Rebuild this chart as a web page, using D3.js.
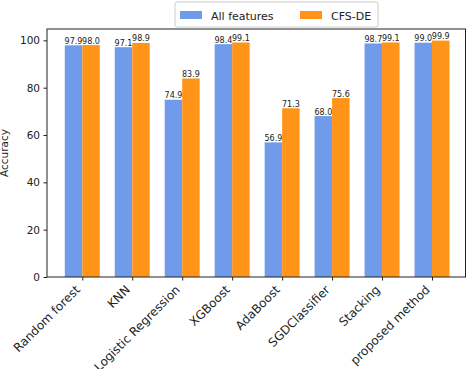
<!DOCTYPE html>
<html><head><meta charset="utf-8">
<script src="https://cdnjs.cloudflare.com/ajax/libs/d3/7.8.5/d3.min.js"></script>
<style>body{margin:0;background:#fff}svg{display:block;font-family:"DejaVu Sans",sans-serif}</style>
</head><body>
<svg id="c" width="474" height="369"></svg>
<script>
const categories = ["Random forest","KNN","Logistic Regression","XGBoost","AdaBoost","SGDClassifier","Stacking","proposed method"];
const allFeatures = [97.9, 97.1, 74.9, 98.4, 56.9, 68.0, 98.7, 99.0];
const cfsDE = [98.0, 98.9, 83.9, 99.1, 71.3, 75.6, 99.1, 99.9];
const seriesNames = ["All features","CFS-DE"];
const yTicks = [0, 20, 40, 60, 80, 100];

const colors = ["#6f9bea", "#ff9418"];
const svg = d3.select("#c");
const L = 47, R = 465.5, T = 29, B = 277;
const barW = 0.35;
const x = d3.scaleLinear().domain([-0.706, 7.67]).range([L, R]);
const y = d3.scaleLinear().domain([0, 104.8]).range([B, T]);

const series = [allFeatures, cfsDE];
series.forEach((vals, s) => {
  const off = s === 0 ? -barW : 0;
  svg.append("g").selectAll("rect").data(vals).join("rect")
    .attr("x", (d, i) => x(i + off))
    .attr("width", x(barW) - x(0))
    .attr("y", d => y(d))
    .attr("height", d => y(0) - y(d))
    .attr("fill", colors[s]);
  svg.append("g").selectAll("text").data(vals).join("text")
    .attr("x", (d, i) => x(i + off + barW / 2))
    .attr("y", d => y(d) - 1.5)
    .attr("text-anchor", "middle")
    .attr("font-size", "8px")
    .attr("fill", "#222")
    .text(d => d.toFixed(1));
});

// axes
const yAxis = d3.axisLeft(y).tickValues(yTicks).tickSize(3.5).tickPadding(3.5);
const gy = svg.append("g").attr("transform", `translate(${L},0)`).call(yAxis);
gy.select(".domain").remove();
gy.selectAll("text").attr("font-size", "10.5px").attr("fill", "#222").attr("font-family", "DejaVu Sans");
gy.selectAll("line").attr("stroke", "#222");

const xAxis = d3.axisBottom(x).tickValues(d3.range(categories.length)).tickFormat(i => categories[i]).tickSize(3.5).tickPadding(2);
const gx = svg.append("g").attr("transform", `translate(0,${B})`).call(xAxis);
gx.select(".domain").remove();
gx.selectAll("line").attr("stroke", "#222");
gx.selectAll("text")
  .attr("font-size", "12px").attr("fill", "#222").attr("font-family", "DejaVu Sans")
  .attr("text-anchor", "end")
  .attr("dy", 0)
  .attr("transform", "translate(-2,13.5) rotate(-45)")
  .attr("y", 0).attr("x", 0);

svg.append("rect").attr("x", L).attr("y", T).attr("width", R - L).attr("height", B - T)
  .attr("fill", "none").attr("stroke", "#222").attr("stroke-width", 1);

svg.append("text").attr("transform", `translate(8,${(T + B) / 2}) rotate(-90)`)
  .attr("text-anchor", "middle").attr("font-size", "10.5px").attr("fill", "#222").text("Accuracy");

// legend
const lg = svg.append("g");
lg.append("rect").attr("x", 175).attr("y", 2).attr("width", 203).attr("height", 25).attr("rx", 2)
  .attr("fill", "#fff").attr("stroke", "#ccc").attr("stroke-width", 1);
const legX = [180, 300];
seriesNames.forEach((n, i) => {
  lg.append("rect").attr("x", legX[i]).attr("y", 11).attr("width", 22).attr("height", 8).attr("fill", colors[i]);
  lg.append("text").attr("x", legX[i] + 31).attr("y", 19.5).attr("font-size", "11px").attr("fill", "#222").text(n);
});
</script>
</body></html>
